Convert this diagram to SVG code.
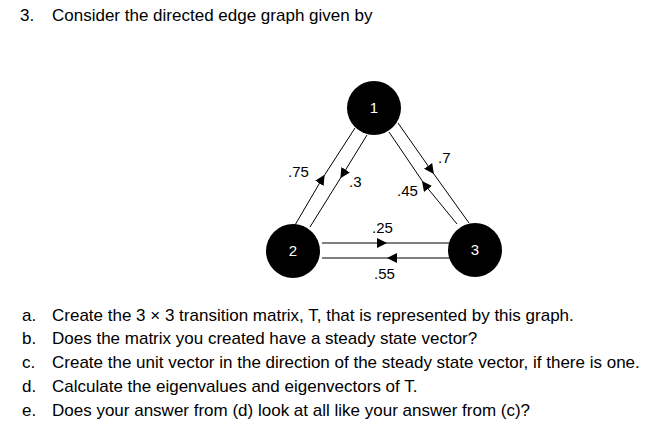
<svg xmlns="http://www.w3.org/2000/svg" width="667" height="440" viewBox="0 0 667 440">
<style>
text{font-family:"Liberation Sans",Arial,sans-serif;font-size:17px;fill:#000}
.e{stroke:#000;stroke-width:1;fill:none;marker-mid:url(#ah)}
.n{fill:#000}
.nl{fill:#fff;font-size:15px;text-anchor:middle}
.l{font-size:15px}
</style>
<defs><marker id="ah" viewBox="0 0 10 10" refX="5" refY="5" markerWidth="10" markerHeight="10" markerUnits="userSpaceOnUse" orient="auto"><path d="M0,0L10,5L0,10z" fill="#000"/></marker></defs>
<rect width="667" height="440" fill="#fff"/>
<text x="20" y="21">3.</text><text x="52" y="21">Consider the directed edge graph given by</text>
<g id="connectors">
<polyline class="e" points="295,225 322,179 355,128"/>
<polyline class="e" points="367,135 343,174 310,227"/>
<polyline class="e" points="398,123 431,170 469,223"/>
<polyline class="e" points="457,224 425,185 389,132"/>
<polyline class="e" points="322,243 382,243 450,243"/>
<polyline class="e" points="450,258 392,258 322,258"/>
</g>
<g id="labels">
<text class="l" x="288" y="177">.75</text>
<text class="l" x="349" y="187">.3</text>
<text class="l" x="438" y="163">.7</text>
<text class="l" x="397" y="196">.45</text>
<text class="l" x="372" y="233">.25</text>
<text class="l" x="374" y="279">.55</text>
</g>
<g id="node1"><circle class="n" cx="374" cy="108" r="27"/><text class="nl" x="374" y="113">1</text></g>
<g id="node2"><circle class="n" cx="293" cy="251" r="27"/><text class="nl" x="293" y="256">2</text></g>
<g id="node3"><circle class="n" cx="475" cy="250" r="27"/><text class="nl" x="475" y="255">3</text></g>
<text x="22" y="321">a.</text><text x="52" y="321">Create the 3 × 3 transition matrix, T, that is represented by this graph.</text>
<text x="22" y="344">b.</text><text x="52" y="344">Does the matrix you created have a steady state vector?</text>
<text x="22" y="368">c.</text><text x="52" y="368">Create the unit vector in the direction of the steady state vector, if there is one.</text>
<text x="22" y="392">d.</text><text x="52" y="392">Calculate the eigenvalues and eigenvectors of T.</text>
<text x="22" y="416">e.</text><text x="52" y="416">Does your answer from (d) look at all like your answer from (c)?</text>
</svg>
